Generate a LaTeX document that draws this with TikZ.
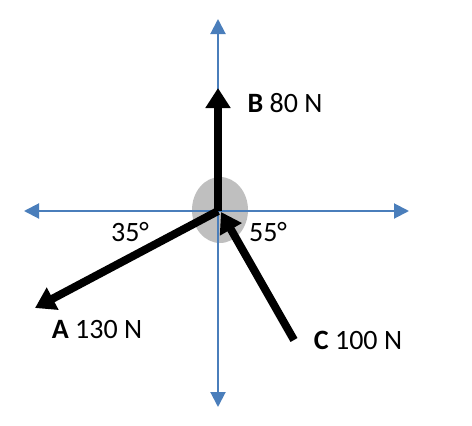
\documentclass[tikz,border=0pt]{standalone}
\usepackage{fontspec}
\setmainfont{Carlito}
\usetikzlibrary{arrows.meta}

\definecolor{axisblue}{RGB}{74,126,187}
\tikzset{
	axis/.style={axisblue, line width=2pt, -{Triangle[width=15pt,length=15pt]}},
	force/.style={black, line width=8pt, -{Triangle[width=24pt,length=20pt]}},
	lbl/.style={font=\fontsize{28}{32}\selectfont, inner sep=0pt},
}

\begin{document}
\begin{tikzpicture}[x=1pt,y=-1pt]
	\useasboundingbox (0,0) rectangle (472,426);

	\coordinate (O) at (218,211);		%centre
	\coordinate (L) at (24,211);
	\coordinate (R) at (409,211);
	\coordinate (T) at (218,19);
	\coordinate (D) at (218,407);

	\fill[gray!50] (220,210) ellipse (28 and 33);	%body

	\draw[axis] (O)--(L);
	\draw[axis] (O)--(R);
	\draw[axis] (O)--(T);
	\draw[axis] (O)--(D);

	\coordinate (Bt) at (218,88);		%B tip
	\coordinate (At) at (35,308);		%A tip
	\coordinate (Cs) at (294,340);		%C tail
	\coordinate (Ct) at (221,212);		%C tip

	\draw[force] (O)--(Bt);
	\draw[force] (O)--(At);
	\draw[force] (Cs)--(Ct);

	\node[lbl] (bl) at (285,103) {\textbf{B} 80 N};
	\node[lbl] (al) at (97,330)  {\textbf{A} 130 N};
	\node[lbl] (cl) at (358,340) {\textbf{C} 100 N};
	\node[lbl] (aa) at (130,232) {35°};	%left angle
	\node[lbl] (ca) at (268,232) {55°};	%right angle
\end{tikzpicture}
\end{document}
